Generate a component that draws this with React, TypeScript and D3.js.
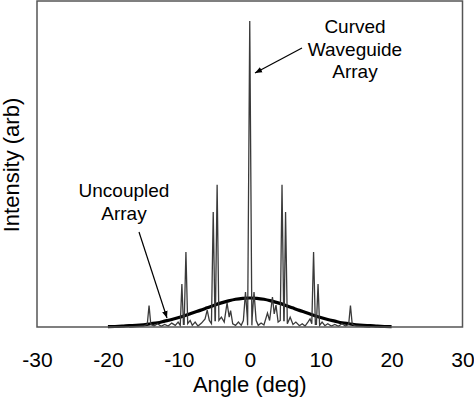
import React, { useEffect, useRef } from 'react';
import * as d3 from 'd3';

// Curved waveguide array: [angle (deg), intensity (arb)]
const curvedAngles = [
  -17, -15, -14.45, -14.2, -13.95, -13.5, -13, -12.5, -12, -11.5, -11, -10.5, -10.1,
  -9.8, -9.57, -9.35, -9.25, -9.0, -8.75, -8.4, -8.1, -7.7, -7.3, -6.8, -6.3, -6.0, -5.7,
  -5.4, -5.15, -4.9, -4.85, -4.6, -4.35, -4.0, -3.6, -3.2, -2.9, -2.7, -2.4, -2.0, -1.6,
  -1.2, -0.9, -0.6, -0.35, -0.3, 0, 0.3, 0.35, 0.6, 0.9, 1.2, 1.6, 2.0, 2.5, 2.8, 3.2,
  3.45, 3.7, 4.0, 4.3, 4.55, 4.8, 4.85, 5.05, 5.3, 5.7, 6.1, 6.5, 7.0, 7.4, 7.8, 8.2,
  8.5, 8.75, 9.0, 9.25, 9.4, 9.63, 9.85, 10.2, 10.6, 11.0, 11.5, 12.0, 12.5, 13.0, 13.5,
  13.95, 14.2, 14.45, 15, 17
];
const curvedValues = [
  0, 0.3, 0.8, 6.6, 0.8, 0.3, 1.0, 0.2, 0.8, 0.3, 1.2, 0.5, 1.5,
  0.5, 13.2, 0.8, 0.8, 23.0, 1.0, 2.0, 0.5, 1.5, 0.3, 1.2, 2.5, 5.2, 2.0,
  1.0, 35.3, 2.0, 2.0, 43.6, 2.0, 3.0, 1.5, 7.4, 3.0, 5.0, 1.0, 0.5, 1.5,
  0.5, 2.0, 10.7, 3.0, 0.5, 93.9, 0.5, 3.0, 10.7, 2.0, 0.5, 1.2, 0.6, 4.3, 2.0, 9.2,
  4.0, 6.7, 1.5, 2.0, 43.6, 2.0, 2.0, 35.3, 1.0, 3.0, 0.8, 1.5, 0.4, 1.0, 0.3, 1.5,
  2.5, 1.0, 23.0, 0.8, 0.8, 13.2, 0.5, 1.5, 0.4, 1.0, 0.3, 0.8, 0.2, 1.0, 0.3,
  0.8, 6.6, 0.8, 0.3, 0
];

// Uncoupled array: smooth envelope
const uncoupledAngles = [
  -20, -19, -18, -17, -16, -15, -14, -13, -12, -11, -10, -9, -8, -7, -6, -5, -4, -3, -2, -1, 0,
  1, 2, 3, 4, 5, 6, 7, 8, 9, 10, 11, 12, 13, 14, 15, 16, 17, 18, 19, 20
];
const uncoupledValues = [
  0.1, 0.15, 0.25, 0.4, 0.5, 0.7, 1.0, 1.3, 1.8, 2.3, 2.9, 3.6, 4.4, 5.1, 5.9, 6.7, 7.4, 8.0, 8.5, 8.8, 8.9,
  8.8, 8.5, 8.0, 7.4, 6.7, 5.9, 5.1, 4.4, 3.6, 2.9, 2.3, 1.8, 1.3, 1.0, 0.7, 0.5, 0.4, 0.25, 0.15, 0.1
];

const xTicks = [-30, -20, -10, 0, 10, 20, 30];

const App = () => {
  const svgRef = useRef(null);

  useEffect(() => {
    const width = 474;
    const height = 398;
    const margin = { top: 1, right: 11.5, bottom: 71, left: 37 };
    const font = '"Liberation Sans", Arial, sans-serif';

    const svg = d3.select(svgRef.current);
    svg.selectAll('*').remove();
    svg.attr('width', width).attr('height', height);

    const x = d3.scaleLinear().domain([-30, 30]).range([margin.left, width - margin.right]);
    const y = d3.scaleLinear().domain([0, 100]).range([height - margin.bottom, margin.top]);

    // arrow marker
    svg.append('defs').append('marker')
      .attr('id', 'arrow')
      .attr('viewBox', '0 0 10 10')
      .attr('refX', 10).attr('refY', 5)
      .attr('markerWidth', 7).attr('markerHeight', 7)
      .attr('markerUnits', 'userSpaceOnUse')
      .attr('orient', 'auto')
      .append('path')
      .attr('d', 'M0,1 L10,5 L0,9 Z')
      .attr('fill', '#000');

    // uncoupled array
    const uncoupled = uncoupledAngles.map((a, i) => [a, uncoupledValues[i]]);
    svg.append('path')
      .datum(uncoupled)
      .attr('fill', 'none')
      .attr('stroke', '#000')
      .attr('stroke-width', 3.2)
      .attr('d', d3.line().curve(d3.curveMonotoneX).x(d => x(d[0])).y(d => y(d[1])));

    // curved waveguide array
    const curved = curvedAngles.map((a, i) => [a, curvedValues[i]]);
    svg.append('path')
      .datum(curved)
      .attr('fill', 'none')
      .attr('stroke', '#3a3a3a')
      .attr('stroke-width', 1.3)
      .attr('stroke-linejoin', 'miter')
      .attr('d', d3.line().x(d => x(d[0])).y(d => y(d[1])));

    // frame
    svg.append('rect')
      .attr('x', margin.left)
      .attr('y', margin.top)
      .attr('width', width - margin.right - margin.left)
      .attr('height', height - margin.bottom - margin.top)
      .attr('fill', 'none')
      .attr('stroke', '#555')
      .attr('stroke-width', 1.5);

    // x axis
    const xAxis = svg.append('g')
      .attr('transform', `translate(0,${height - margin.bottom})`)
      .call(d3.axisBottom(x).tickValues(xTicks).tickSize(0).tickPadding(25).tickFormat(d => String(d)));
    xAxis.select('.domain').remove();
    xAxis.selectAll('text')
      .style('font-family', font)
      .style('font-size', '21px')
      .attr('fill', '#000');

    // axis titles
    svg.append('text')
      .attr('x', x(0))
      .attr('y', 392)
      .attr('text-anchor', 'middle')
      .style('font-family', font)
      .style('font-size', '22px')
      .text('Angle (deg)');

    svg.append('text')
      .attr('transform', `translate(19,${165}) rotate(-90)`)
      .attr('text-anchor', 'middle')
      .style('font-family', font)
      .style('font-size', '22px')
      .text('Intensity (arb)');

    // annotations
    const curvedLabel = svg.append('text')
      .attr('text-anchor', 'middle')
      .style('font-family', font)
      .style('font-size', '19px');
    ['Curved', 'Waveguide', 'Array'].forEach((t, i) => {
      curvedLabel.append('tspan').attr('x', 355).attr('y', 33 + i * 22.5).text(t);
    });

    const uncoupledLabel = svg.append('text')
      .attr('text-anchor', 'middle')
      .style('font-family', font)
      .style('font-size', '19px');
    ['Uncoupled', 'Array'].forEach((t, i) => {
      uncoupledLabel.append('tspan').attr('x', 124).attr('y', 197 + i * 23).text(t);
    });

    svg.append('line')
      .attr('x1', 302).attr('y1', 48)
      .attr('x2', 255).attr('y2', 73)
      .attr('stroke', '#000').attr('stroke-width', 1.2)
      .attr('marker-end', 'url(#arrow)');

    svg.append('line')
      .attr('x1', 139).attr('y1', 232)
      .attr('x2', 167).attr('y2', 318)
      .attr('stroke', '#000').attr('stroke-width', 1.2)
      .attr('marker-end', 'url(#arrow)');
  }, []);

  return (
    <svg ref={svgRef} style={{ position: 'absolute', left: 0, top: 0, background: '#fff' }}></svg>
  );
};

export default App;
